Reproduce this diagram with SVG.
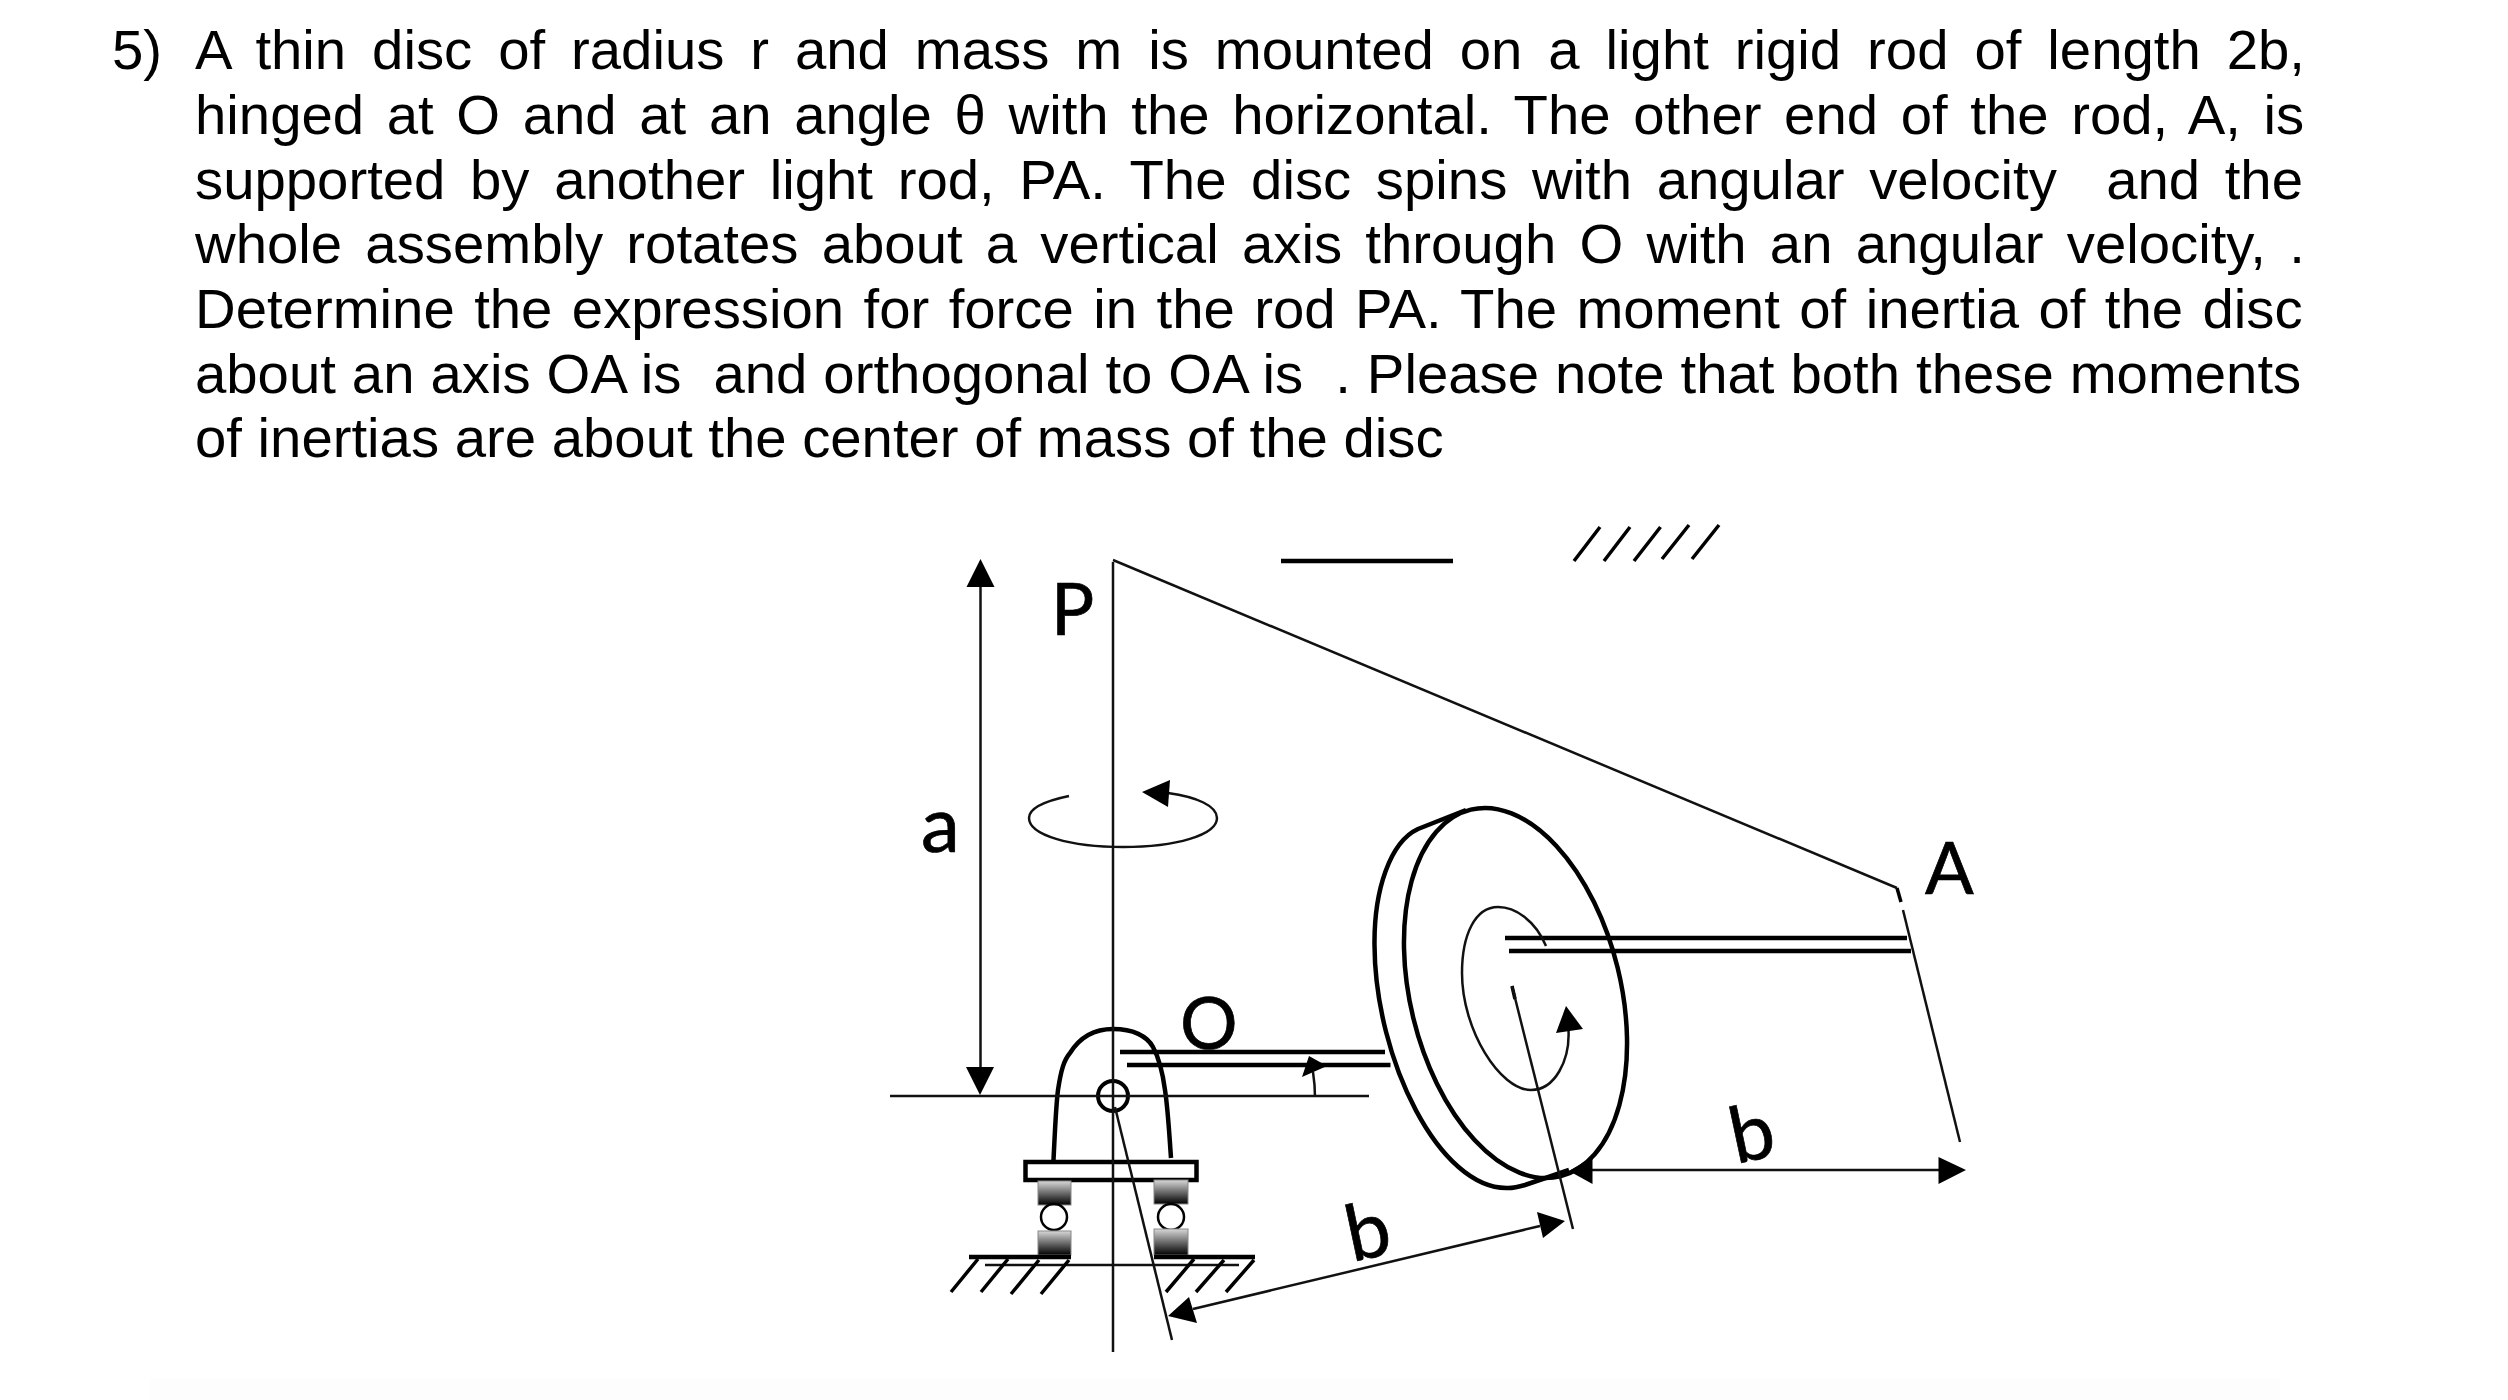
<svg xmlns="http://www.w3.org/2000/svg" width="2508" height="1400" viewBox="0 0 2508 1400">
<style>
.q{font-family:"Liberation Sans",Arial,sans-serif;font-size:56.3px;fill:#000;white-space:pre}
.l{font-family:Lato,"Open Sans",sans-serif;font-size:72px;fill:#000;stroke:#000;stroke-width:0.7}
.s{font-size:78px}
.t{fill:none;stroke:#111;stroke-width:2.5}
.m{fill:none;stroke:#000;stroke-width:3.5}
.k{fill:none;stroke:#000;stroke-width:4.5}
.h{fill:#000;stroke:none}
.b{fill:url(#g);stroke:#888;stroke-width:1}
</style>
<defs><linearGradient id="g" x1="0" y1="0" x2="0" y2="1"><stop offset="0" stop-color="#d8d8d8"/><stop offset="1" stop-color="#000"/></linearGradient></defs>
<rect width="2508" height="1400" fill="#fff"/>
<rect x="150" y="1378" width="2130" height="22" fill="#fdfdfd"/>
<g id="question">
<text class="q" x="112" y="69">5)</text>
<text class="q" x="195" y="69" style="word-spacing:10.3px">A thin disc of radius r and mass m is mounted on a light rigid rod of length 2b,</text>
<text class="q" x="195" y="134" style="word-spacing:7px">hinged at O and at an angle θ with the horizontal. The other end of the rod, A, is</text>
<text class="q" x="195" y="199" style="word-spacing:9px">supported by another light rod, PA. The disc spins with angular velocity  and the</text>
<text class="q" x="195" y="263" style="word-spacing:7.6px">whole assembly rotates about a vertical axis through O with an angular velocity, .</text>
<text class="q" x="195" y="328" style="word-spacing:3.8px">Determine the expression for force in the rod PA. The moment of inertia of the disc</text>
<text class="q" x="195" y="393" style="word-spacing:0.35px">about an axis OA is  and orthogonal to OA is  . Please note that both these moments</text>
<text class="q" x="195" y="457">of inertias are about the center of mass of the disc</text>
</g>
<g id="top-support">
<path class="k" d="M1281 561H1453"/>
<path class="m" d="M1574 561L1600 527M1604 561L1630 527M1634 561L1660.500 527M1662 559L1689 525M1692 559L1719 525"/>
</g>
<g id="disc">
<path class="k" d="M1466 810L1418 829C1390 842 1374 890 1374.500 945C1375 1060 1440 1190 1508 1188Q1515 1188 1525 1185L1569 1170"/>
<ellipse class="k" cx="1515.500" cy="993" rx="188.700" ry="105.200" transform="rotate(76.300 1515.500 993)"/>
</g>
<g id="hinge">
<path class="k" d="M1053.500 1160C1055 1130 1056 1105 1058 1090C1061 1070 1064 1060 1070 1053C1080 1037 1095 1029 1113 1029C1133 1029 1147 1036 1153 1047C1160 1060 1163 1075 1165 1090C1168 1110 1169 1130 1171 1158"/>
<circle class="k" style="stroke-width:4" cx="1113" cy="1096" r="15"/>
<rect class="k" x="1025.500" y="1162" width="171" height="18"/>
<rect class="b" x="1038" y="1181" width="33" height="24"/>
<rect class="b" x="1154" y="1180" width="34" height="24"/>
<circle class="m" style="stroke-width:2.500" cx="1054" cy="1217" r="13"/>
<circle class="m" style="stroke-width:2.500" cx="1171" cy="1217" r="13"/>
<rect class="b" x="1038" y="1231" width="33" height="24"/>
<rect class="b" x="1154" y="1229" width="34" height="26"/>
</g>
<g id="ground">
<path class="k" d="M969 1257H1071M1154 1257H1255"/>
<path class="t" d="M985 1265H1239"/>
<path class="m" d="M978 1259L951 1292M1008 1259L981 1292M1039 1260L1011 1294M1069 1260L1041 1294M1194 1259L1166 1292M1224 1260L1196 1292M1254 1260L1226 1292"/>
</g>
<g id="connectors">
<path class="t" d="M1113 562V1352M890 1096H1369"/>
<path class="t" d="M1113 560L1897 888"/>
<path class="m" d="M1897 888L1901 902"/>
<path class="t" d="M1903 910L1960 1142"/>
<path class="t" d="M1115 1107L1172 1340"/>
<path class="m" d="M1512 986L1515 999"/>
<path class="t" d="M1512 986L1573 1229"/>
<path class="k" d="M1120 1052H1385M1127 1065H1390.500M1505 938H1907M1509 951H1911"/>
<path class="t" d="M980.500 580V1070"/>
<path class="h" d="M980.500 559L994.500 587H966.500ZM980 1095L966 1067H994Z"/>
<path class="t" d="M1069 796C1045 801 1029 808 1029 818C1029 835 1070 847 1123 847C1176 847 1217 835 1217 818C1217 806 1197 797 1168 793"/>
<path class="h" d="M1142 792L1170 780L1168 807Z"/>
<path class="t" d="M1315 1097Q1315 1085 1313 1072"/>
<path class="h" d="M1327 1066L1309 1056L1302 1077Z"/>
<path class="t" d="M1546 946C1535 920 1515 907 1498 907C1475 907 1462 935 1462 973C1462 1030 1500 1090 1531 1090C1555 1090 1570 1060 1568.500 1030"/>
<path class="h" d="M1566 1006L1556 1033L1583 1029Z"/>
<path class="t" d="M1590 1170H1940"/>
<path class="h" d="M1569 1171L1592.500 1157V1184ZM1966 1170L1938.500 1157V1184Z"/>
<path class="t" d="M1193 1309L1540 1226"/>
<path class="h" d="M1168 1316L1189 1297L1197 1323ZM1565 1221L1537 1212L1543 1238Z"/>
</g>
<g id="labels">
<text class="l" x="1051" y="635">P</text>
<text class="l s" x="921" y="852">a</text>
<text class="l" x="1180" y="1049">O</text>
<text class="l" x="1925" y="894">A</text>
<text class="l s" transform="translate(1736 1164) rotate(-12)">b</text>
<text class="l s" transform="translate(1352 1262) rotate(-12)">b</text>
</g>
</svg>
